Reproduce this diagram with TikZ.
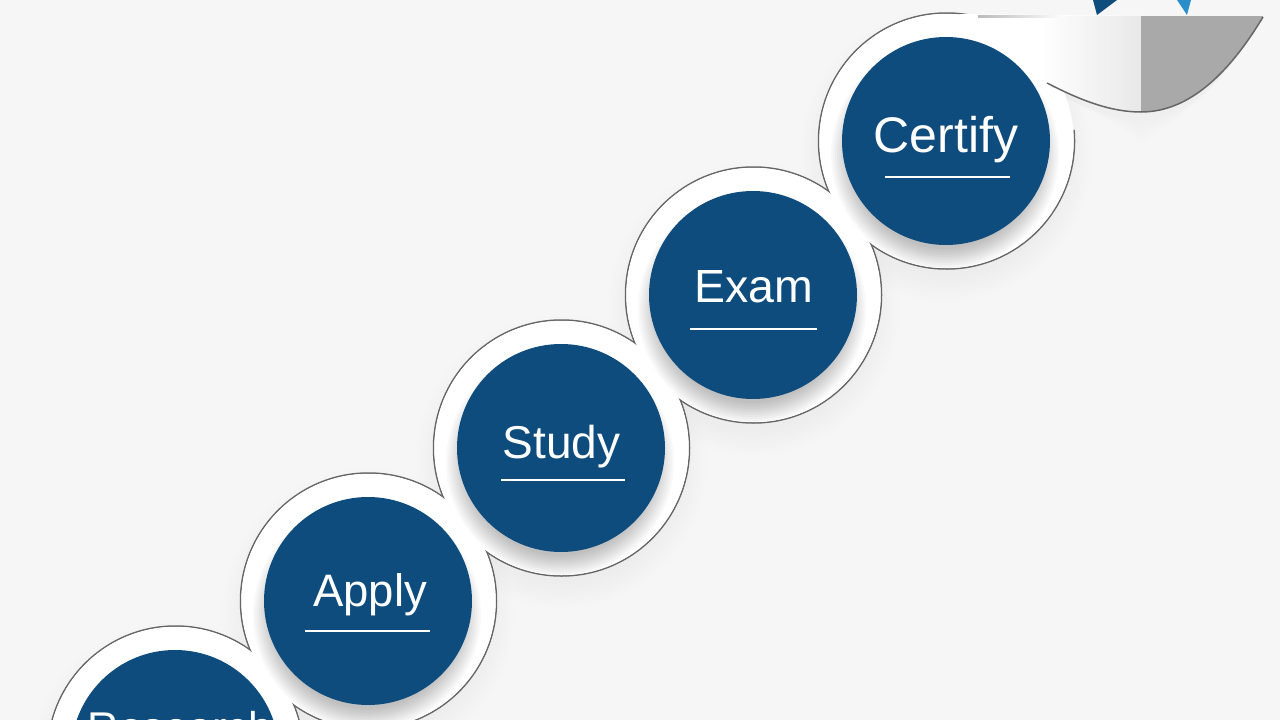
\documentclass[tikz,border=0pt]{standalone}
\usepackage{fontspec}
\setmainfont{Liberation Sans}
\usetikzlibrary{positioning,calc}
\definecolor{pagegray}{HTML}{F6F6F7}
\definecolor{discblue}{HTML}{0F4C7E}
\definecolor{tipblue}{HTML}{2A8FC9}
\definecolor{ringline}{HTML}{666666}
\definecolor{tailgray}{HTML}{A9A9A9}
\begin{document}
\begin{tikzpicture}[x=1pt,y=-1pt,
    disc/.style={circle,fill=discblue,minimum size=208pt,inner sep=0pt},
    steptext/.style={text=white,anchor=base,inner sep=0pt},
    underline/.style={white,line width=1.2pt},
    outline/.style={ringline,line width=1.5pt}]
    \clip (0,0) rectangle (1280,720);
    \fill[pagegray] (0,0) rectangle (1280,720);
    % soft shadow on the page
    \foreach \r in {122,125,...,146}
        \foreach \cx/\cy in {946/141,753/295,561/448,368/601,175/754}
            \fill[black,opacity=0.002] (\cx,\cy+14) circle (\r);
    \foreach \r in {2,6,...,26}
        \fill[black,opacity=0.002] (1141,16) -- (1263,16) .. controls (1225,85) and (1185,116) .. (1141,118+\r) .. controls (1110,118) and (1080,105) .. (1047,90) -- cycle;
    % blue tips on top
    \fill[discblue] (1093,0) -- (1117,0) -- (1097,15) -- cycle;
    \fill[tipblue] (1177,0) -- (1191,0) -- (1187,15) -- cycle;
    % rings
    \foreach \cx/\cy in {753.5/295,561.5/448,368.5/601,175.5/754}
        \draw[outline] (\cx,\cy) circle (128);
    \draw[outline] (946.5,141) ++(-5:128) arc[start angle=-5,end angle=285,radius=128];
    \foreach \cx/\cy in {946.5/141,753.5/295,561.5/448,368.5/601,175.5/754}
        \fill[white] (\cx,\cy) circle (127.2);
    % ribbon end
    \fill[white] (960,14) -- (1141,16) -- (1141,112) -- (1047,83) -- (1073,130) -- (1000,140) -- cycle;
    \shade[left color=white,right color=gray!18] (1040,16) rectangle (1141,84);
    \shade[left color=white,right color=gray!18] (1047,83) .. controls (1080,100) and (1110,112) .. (1141,112) -- (1141,80) -- (1040,80) -- cycle;
    \fill[tailgray] (1141,16) -- (1263,16) .. controls (1225,80) and (1185,112) .. (1141,112) -- cycle;
    \draw[outline] (1047,83) .. controls (1080,100) and (1110,112) .. (1141,112) .. controls (1185,112) and (1225,80) .. (1263,17);
    \shade[left color=ringline!45,right color=white] (978,15.5) rectangle (1065,17);
    % shadows below the discs
    \begin{scope}
        \clip (946.5,141) circle (127) (753.5,295) circle (127) (561.5,448) circle (127) (368.5,601) circle (127) (175.5,754) circle (127);
        \foreach \r in {94,96,...,114}
            \foreach \cx/\cy in {946/141,753/295,561/448,368/601}
                \fill[black,opacity=0.024] (\cx-1,\cy+14) circle (\r);
    \end{scope}
    % discs
    \foreach \name/\cx/\cy/\fs/\tx/\bl/\ul/\ux/\hw/\txt in {
        research/175/754/43/180/742/790/175/60/Research,
        apply/368/601/45.5/370/606/631/367.5/62.5/Apply,
        study/561/448/46/561.5/458/480/563/62/Study,
        exam/753/295/46.5/753.5/302/329/753.5/63.5/Exam,
        certify/946/141/50/946/152/177/947.5/62.5/Certify} {
        \node[disc] (\name) at (\cx,\cy) {};
        \node[steptext] (\name text) at (\tx,\bl) {\fontsize{\fs}{\fs}\selectfont\txt};
        \draw[underline] (\ux-\hw,\ul) -- (\ux+\hw,\ul);
    }
\end{tikzpicture}
\end{document}
